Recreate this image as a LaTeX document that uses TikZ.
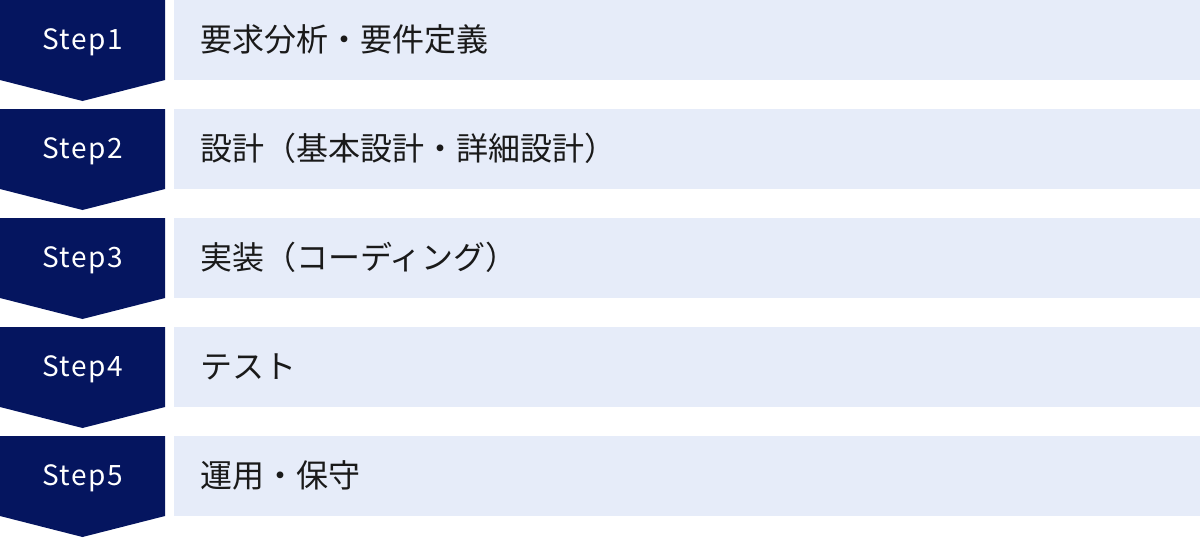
\documentclass[tikz,border=0pt]{standalone}
\usepackage{fontspec}
\setmainfont{Noto Sans CJK JP}
\definecolor{navy}{HTML}{05155F}
\definecolor{pale}{HTML}{E6ECF9}
\definecolor{ink}{HTML}{1A1A1A}
\tikzset{
  chev/.style={fill=navy, draw=none},
  band/.style={fill=pale, draw=none},
  steplabel/.style={text=white, font=\fontsize{28}{32}\selectfont, anchor=center, inner sep=0pt},
  bandlabel/.style={text=ink, font=\fontsize{32}{38}\selectfont, anchor=west, inner sep=0pt},
}
\begin{document}
\begin{tikzpicture}[x=1pt,y=-1pt]
\useasboundingbox (0,0) rectangle (1200,538);
\foreach \i/\t in {0/要求分析・要件定義,1/設計（基本設計・詳細設計）,2/実装（コーディング）,3/テスト,4/運用・保守}{
  \pgfmathsetmacro{\yy}{\i*109}
  \pgfmathtruncatemacro{\n}{\i+1}
  \fill[chev] (0,\yy) -- (165,\yy) -- (165,\yy+80) -- (82.5,\yy+101) -- (0,\yy+80) -- cycle;
  \fill[band] (174,\yy) rectangle (1200,\yy+80);
  \node[steplabel] (s\n) at (82.5,\yy+42) {\addfontfeature{LetterSpace=5}Step\n};
  \node[bandlabel] (b\n) at (200,\yy+39.5) {\t};
}
\end{tikzpicture}
\end{document}
